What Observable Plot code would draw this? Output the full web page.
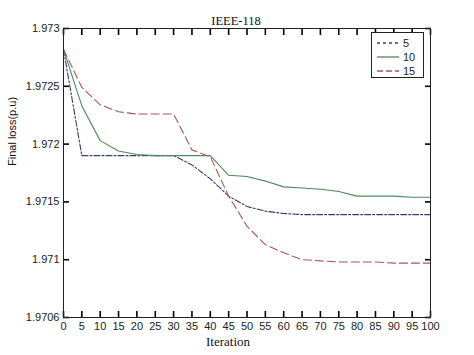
<!DOCTYPE html>
<html><head><meta charset="utf-8">
<script src="https://cdn.jsdelivr.net/npm/d3@7"></script>
<script src="https://cdn.jsdelivr.net/npm/@observablehq/plot@0.6"></script>
<style>
body{margin:0;background:#fff;}
#wrap{position:relative;width:474px;height:355px;}
#legend{position:absolute;left:371px;top:32px;width:53px;height:46px;border:1px solid #222;background:#fff;font:11px "Liberation Sans",Arial,sans-serif;color:#222;box-sizing:border-box;}
#legend .row{position:absolute;left:0;height:14px;width:100%;}
#legend svg{position:absolute;left:5px;top:3px;}
#legend span{position:absolute;left:31px;top:0;line-height:14px;}
</style></head><body><div id="wrap"></div>
<script>
const iterations = [0,5,10,15,20,25,30,35,40,45,50,55,60,65,70,75,80,85,90,95,100];
const loss5  = [1.97282,1.97190,1.97190,1.97190,1.97190,1.97190,1.97190,1.97182,1.97170,1.97155,1.97146,1.97142,1.97140,1.97139,1.97139,1.97139,1.97139,1.97139,1.97139,1.97139,1.97139];
const loss10 = [1.97282,1.97233,1.97203,1.97194,1.97191,1.97190,1.97190,1.97190,1.97190,1.97173,1.97172,1.97168,1.97163,1.97162,1.97161,1.97159,1.97155,1.97155,1.97155,1.97154,1.97154];
const loss15 = [1.97282,1.97249,1.97234,1.97228,1.97226,1.97226,1.97226,1.97195,1.97189,1.97155,1.97129,1.97113,1.97106,1.97100,1.97099,1.97098,1.97098,1.97098,1.97097,1.97097,1.97097];
const seriesNames = ["5","10","15"];
const seriesColors = ["#34406e","#4c8a5a","#a85555"];
const seriesDash = ["6,2,2,2","none","8,4"];
const xTicks = [0,5,10,15,20,25,30,35,40,45,50,55,60,65,70,75,80,85,90,95,100];
const yTicks = [1.9705,1.971,1.9715,1.972,1.9725,1.973];
const yTickLabels = ["1.9706","1.971","1.9715","1.972","1.9725","1.973"];
const xDomain = [0,100];
const yDomain = [1.9705,1.973];
const titleText = "IEEE-118";
const xLabel = "Iteration";
const yLabel = "Final loss(p.u)";

const seriesValues = [loss5, loss10, loss15];
const rows = [];
seriesValues.forEach((vals,i)=>vals.forEach((v,j)=>rows.push({series:seriesNames[i], iteration:iterations[j], loss:v})));

const W = 474, H = 355, mT = 28, mB = 38, mL = 63, mR = 44, tk = 6;
const sans = "Liberation Sans, Arial, sans-serif";
const serif = "Liberation Serif, Times New Roman, serif";
const tickStyle = {tickSize:tk, stroke:"#000", strokeWidth:1.6, fill:"none", label:null};

const chart = Plot.plot({
  width:W, height:H,
  marginTop:mT, marginBottom:mB, marginLeft:mL, marginRight:mR,
  style:{fontFamily:sans, fontSize:"11px", background:"#fff", color:"#222", overflow:"visible"},
  x:{domain:xDomain},
  y:{domain:yDomain},
  marks:[
    ...seriesNames.map((s,i)=>Plot.line(rows.filter(r=>r.series===s), {x:"iteration", y:"loss", stroke:seriesColors[i], strokeDasharray:seriesDash[i], strokeWidth:1.1})),
    Plot.axisX({anchor:"bottom", ticks:xTicks, dy:-tk, ...tickStyle}),
    Plot.axisX({anchor:"top", ticks:xTicks, dy:tk, ...tickStyle}),
    Plot.axisY({anchor:"left", ticks:yTicks, dx:tk, ...tickStyle}),
    Plot.axisY({anchor:"right", ticks:yTicks, dx:-tk, ...tickStyle}),
    Plot.frame({stroke:"#222"}),
    Plot.axisX({anchor:"bottom", ticks:xTicks, tickSize:0, tickPadding:5, label:null, fontFamily:sans}),
    Plot.axisY({anchor:"left", ticks:yTicks, tickSize:0, tickPadding:4, tickFormat:d=>yTickLabels[yTicks.indexOf(d)], label:null, fontFamily:sans}),
    Plot.text([titleText], {frameAnchor:"top", dx:-11, dy:-12, fontFamily:serif, fontSize:12.5, fill:"#111"}),
    Plot.text([xLabel], {frameAnchor:"bottom", dx:-19, dy:28, fontFamily:serif, fontSize:13, fill:"#111"}),
    Plot.text([yLabel], {frameAnchor:"left", dx:-51, dy:-7, rotate:-90, fontFamily:sans, fontSize:11, fill:"#111"})
  ]
});
const wrap = document.getElementById("wrap");
wrap.appendChild(chart);

const legend = document.createElement("div");
legend.id = "legend";
seriesNames.forEach((s,i)=>{
  const row = document.createElement("div");
  row.className = "row";
  row.style.top = (3 + i*14) + "px";
  row.innerHTML = `<svg width="22" height="8"><line x1="0" y1="4" x2="22" y2="4" stroke="${seriesColors[i]}" stroke-width="1.3" stroke-dasharray="${seriesDash[i]==='none'?'':(i===0?'3,3':'6,3')}"/></svg><span>${s}</span>`;
  legend.appendChild(row);
});
wrap.appendChild(legend);
</script></body></html>
